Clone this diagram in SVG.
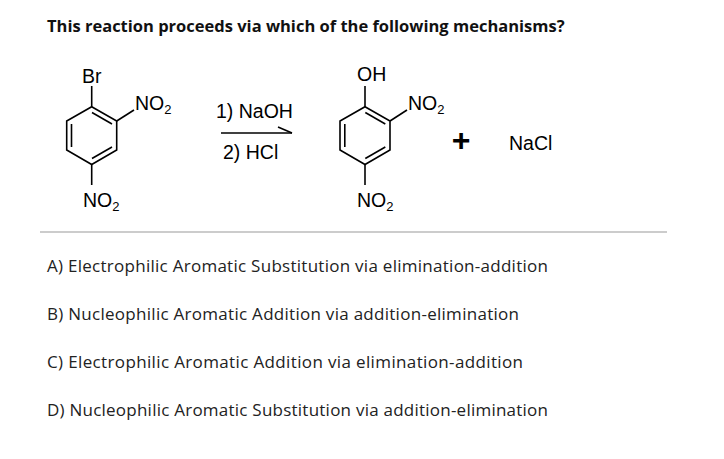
<svg xmlns="http://www.w3.org/2000/svg" width="724" height="459" viewBox="0 0 724 459">
<style>
.b{stroke:#000;stroke-width:1.6;fill:none}
.c{font-family:"Liberation Sans",Arial,sans-serif;font-size:19.5px;fill:#000}
.s{font-size:13px}
.o{font-family:"Open Sans","Liberation Sans",sans-serif;font-size:17px;fill:#222}
</style>
<rect width="724" height="459" fill="#fff"/>
<text x="47" y="32" font-family="'Open Sans','Liberation Sans',sans-serif" font-weight="bold" font-size="16.5" fill="#111">This reaction proceeds via which of the following mechanisms?</text>
<g id="reactant">
<polygon class="b" points="91.7,106.7 116.7,121 116.7,150 91.7,164.5 66.7,150 66.7,121"/>
<line class="b" x1="71.5" y1="124" x2="71.5" y2="147"/>
<line class="b" x1="92" y1="112.5" x2="112" y2="124"/>
<line class="b" x1="112" y1="147" x2="92" y2="158.5"/>
<line class="b" x1="91.7" y1="106.7" x2="91.7" y2="86"/>
<line class="b" x1="116.7" y1="121" x2="134" y2="110"/>
<line class="b" x1="91.7" y1="164.5" x2="91.7" y2="185"/>
<text class="c" x="82" y="83">Br</text>
<text class="c" x="135" y="110">NO<tspan class="s" dy="4">2</tspan></text>
<text class="c" x="83" y="207">NO<tspan class="s" dy="4">2</tspan></text>
</g>
<g id="conditions">
<text class="c" x="216" y="118">1) NaOH</text>
<text class="c" x="223" y="159">2) HCl</text>
</g>
<g id="connectors">
<line class="b" x1="221" y1="133" x2="292" y2="133"/>
<line class="b" x1="292" y1="133" x2="278" y2="127"/>
</g>
<g id="product">
<polygon class="b" points="365,106.7 390,121 390,150 365,164.5 340,150 340,121"/>
<line class="b" x1="344.8" y1="124" x2="344.8" y2="147"/>
<line class="b" x1="365.3" y1="112.5" x2="385.3" y2="124"/>
<line class="b" x1="385.3" y1="147" x2="365.3" y2="158.5"/>
<line class="b" x1="365" y1="106.7" x2="365" y2="86"/>
<line class="b" x1="390" y1="121" x2="407" y2="110"/>
<line class="b" x1="365" y1="164.5" x2="365" y2="185"/>
<text class="c" x="357" y="81">OH</text>
<text class="c" x="408" y="110">NO<tspan class="s" dy="4">2</tspan></text>
<text class="c" x="357" y="207">NO<tspan class="s" dy="4">2</tspan></text>
</g>
<g id="plus"><text x="461" y="151" text-anchor="middle" font-family="'Liberation Sans',sans-serif" font-weight="bold" font-size="32">+</text></g>
<g id="nacl"><text class="c" x="509" y="150">NaCl</text></g>
<line x1="40" y1="232" x2="667" y2="232" stroke="#999" stroke-width="1"/>
<text class="o" x="47" y="272" textLength="501">A) Electrophilic Aromatic Substitution via elimination-addition</text>
<text class="o" x="47" y="320" textLength="472">B) Nucleophilic Aromatic Addition via addition-elimination</text>
<text class="o" x="47" y="368" textLength="476">C) Electrophilic Aromatic Addition via  elimination-addition</text>
<text class="o" x="47" y="416" textLength="501">D) Nucleophilic Aromatic Substitution via addition-elimination</text>
</svg>
